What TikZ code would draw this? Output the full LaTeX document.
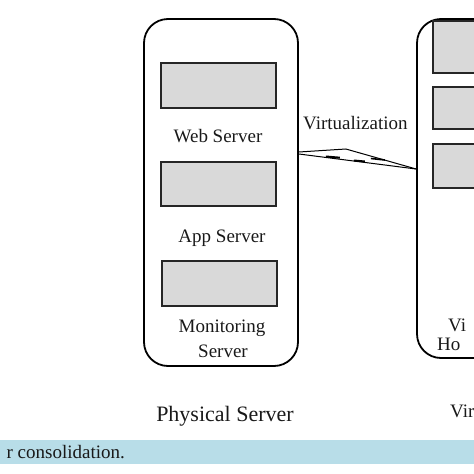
\documentclass[tikz,border=0pt]{standalone}
\usepackage{fontspec}
\setmainfont{Liberation Serif}
\usetikzlibrary{calc}
\definecolor{boxgray}{HTML}{D9D9D9}
\definecolor{capblue}{HTML}{B8DDE8}
\begin{document}
\begin{tikzpicture}[x=1pt,y=-1pt,
  server/.style={draw=black,line width=1.8pt,rounded corners=24pt,inner sep=0pt},
  vmbox/.style={draw=black!85,line width=1.5pt,fill=boxgray,inner sep=0pt},
  lbl/.style={font=\fontsize{19}{21}\selectfont,text=black!90,inner sep=0pt,anchor=base},
  big/.style={font=\fontsize{22}{24}\selectfont,text=black!90,inner sep=0pt,anchor=base},
  boltline/.style={line width=1pt,line join=miter}]
\useasboundingbox (0,0) rectangle (474,474);
\clip (0,0) rectangle (474,474);
% caption bar
\fill[capblue] (0,440) rectangle (474,464);
\node[lbl,anchor=base east] (cap) at (125,458) {r consolidation.};
% physical server
\node[server,minimum width=154pt,minimum height=347pt] (phys) at (221,192.5) {};
\node[vmbox,minimum width=115pt,minimum height=45pt] (web) at (218.5,85.5) {};
\node[vmbox,minimum width=115pt,minimum height=44pt] (app) at (218.5,184) {};
\node[vmbox,minimum width=115pt,minimum height=45pt] (mon) at (219.5,283.5) {};
\node[lbl] (webl) at (218,142) {Web Server};
\node[lbl] (appl) at (222,242) {App Server};
\node[lbl] (monl) at (222,332) {Monitoring};
\node[lbl] (monl2) at (223,357) {Server};
\node[big] (physl) at (225,421) {Physical Server};
% virtual host
\node[server,minimum width=154pt,minimum height=339pt] (host) at (494,188.5) {};
\node[vmbox,minimum width=115pt,minimum height=52pt] (vm1) at (490.5,47) {};
\node[vmbox,minimum width=115pt,minimum height=42pt] (vm2) at (490.5,108) {};
\node[vmbox,minimum width=115pt,minimum height=44pt] (vm3) at (490.5,166) {};
\node[lbl,anchor=base west] (hostl) at (448,331) {Vi};
\node[lbl,anchor=base west] (hostl2) at (437,350) {Ho};
\node[lbl,anchor=base west] (virl) at (450,417) {Vir};
% virtualization bolt
\node[lbl,anchor=base west] (virt) at (303,129) {Virtualization};
\coordinate (b0) at ($(phys.east)+(0,-40.5)$);
\coordinate (b1) at ($(host.west)+(0,-19.5)$);
\draw[boltline] (b0) -- ++(47,-3) -- (b1);
\draw[boltline] ($(b0)+(0,2)$) -- (b1);
\draw[line width=2pt] ($(b0)+(27,4.5)$) -- ++(14,1.2);
\draw[line width=2pt] ($(b0)+(55,8.5)$) -- ++(11,1);
\draw[line width=1.6pt] ($(b0)+(72,6.5)$) -- ++(14,1.5);
\end{tikzpicture}
\end{document}
